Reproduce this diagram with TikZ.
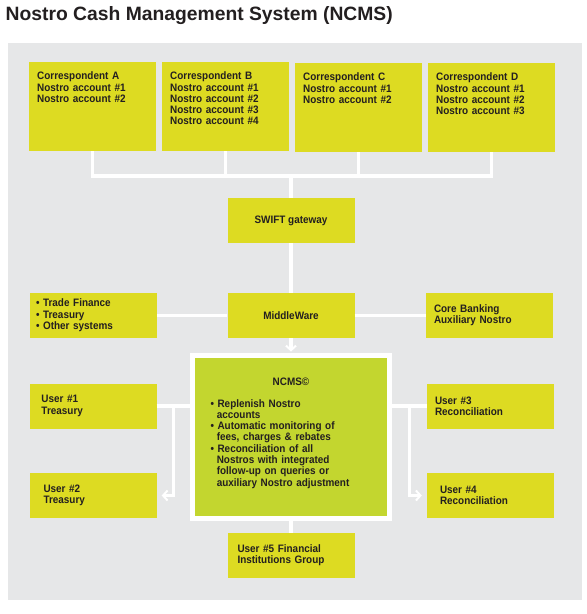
\documentclass[tikz,border=0pt]{standalone}
\usepackage{fontspec}
\newfontfamily\titlefont{Liberation Sans}
\newfontfamily\boxfont{Liberation Sans}[FakeStretch=0.92]
\usepackage{tikz}
\usepackage{xcolor}
\usetikzlibrary{positioning, arrows.meta, calc}

\definecolor{bggray}{HTML}{E6E7E8}
\definecolor{boxyellow}{HTML}{DDDB22}
\definecolor{ncmsgreen}{HTML}{C3D62F}
\definecolor{inkdark}{HTML}{231F20}

\begin{document}
\begin{tikzpicture}[x=1pt, y=-1pt,
    every node/.style={font=\boxfont\bfseries\fontsize{10.8}{11.3}\selectfont, text=inkdark},
    corrbox/.style={fill=boxyellow, anchor=north west, align=left, inner xsep=8pt, inner ysep=0pt, text width=111pt, text height=17.5pt, text depth=71.5pt},
    midbox/.style={fill=boxyellow, minimum width=127pt, minimum height=45pt, inner sep=0pt, align=center},
    listbox/.style={midbox, align=left},
    wire/.style={draw=white, line width=3.5pt},
    tip/.style={-{Straight Barb[length=4.5pt, width=10pt, line width'=2pt]}}]
        \useasboundingbox (0,0) rectangle (587,614);
        \fill[white] (0,0) rectangle (587,614);
        \fill[bggray] (8,42.5) rectangle (582,600);
        \node[font=\titlefont\bfseries\fontsize{19.3}{22}\selectfont, anchor=base west, inner sep=0pt] (title) at (5.5,20.7) {Nostro Cash Management System (NCMS)};
        % Correspondent banks
        \node[corrbox] (corrA) at (29,62) {Correspondent A\\Nostro account \#1\\Nostro account \#2};
        \node[corrbox] (corrB) at (162,62) {Correspondent B\\Nostro account \#1\\Nostro account \#2\\Nostro account \#3\\Nostro account \#4};
        \node[corrbox] (corrC) at (295,63) {Correspondent C\\Nostro account \#1\\Nostro account \#2};
        \node[corrbox] (corrD) at (428,63) {Correspondent D\\Nostro account \#1\\Nostro account \#2\\Nostro account \#3};
        % Gateway and middleware
        \node[midbox] (swift) at (291,220.5) {SWIFT gateway};
        \node[midbox] (mware) at (291,315.5) {MiddleWare};
        \node[listbox, inner xsep=6pt, text width=115pt] (others) at (93.5,315.5) {\textbullet\ Trade Finance\\\textbullet\ Treasury\\\textbullet\ Other systems};
        \node[listbox, inner xsep=8pt, text width=111pt] (core) at (489.5,315.5) {Core Banking\\Auxiliary Nostro};
        % NCMS
        \node[fill=ncmsgreen, draw=white, line width=5pt, minimum width=197pt, minimum height=163pt, inner xsep=18pt, inner ysep=0pt, text width=161pt, text height=29.5pt, text depth=133.5pt, align=left] (ncms) at (291,437) {\makebox[\linewidth]{NCMS\textcopyright}\\[10.7pt]
            \textbullet\ Replenish Nostro\\
            \hspace*{6.3pt}accounts\\
            \textbullet\ Automatic monitoring of\\
            \hspace*{6.3pt}fees, charges \& rebates\\
            \textbullet\ Reconciliation of all\\
            \hspace*{6.3pt}Nostros with integrated\\
            \hspace*{6.3pt}follow-up on queries or\\
            \hspace*{6.3pt}auxiliary Nostro adjustment};
        % Users
        \node[listbox, inner xsep=12pt, text width=103pt] (user1) at (93,406) {User \#1\\Treasury};
        \node[listbox, inner xsep=14pt, text width=99pt] (user2) at (93,495.5) {User \#2\\Treasury};
        \node[listbox, inner xsep=8pt, text width=111pt] (user3) at (490.5,406) {User \#3\\Reconciliation};
        \node[listbox, inner xsep=13pt, text width=101pt] (user4) at (490.5,495.5) {User \#4\\Reconciliation};
        \node[listbox, inner xsep=10pt, text width=107pt] (user5) at (291,555.5) {User \#5 Financial\\Institutions Group};
        % Wires
        \coordinate (bus) at (291,176);
        \draw[wire] (corrA.south) |- (bus) -| (corrD.south);
        \draw[wire] (corrB.south) -- (corrB.south |- bus);
        \draw[wire] (corrC.south) -- (corrC.south |- bus);
        \draw[wire] (bus) -- (swift);
        \draw[wire] (swift) -- (mware);
        \draw[wire] (others) -- (mware);
        \draw[wire] (mware) -- (core);
        \draw[wire, tip, shorten >=1.5pt] (mware) -- (ncms);
        \draw[wire] (user1.east) -- (user1.east -| ncms.west) coordinate[pos=.5] (feedL);
        \draw[wire, tip, shorten >=5pt] (feedL) |- (user2.east);
        \draw[wire] (ncms.east |- user3.west) -- (user3.west) coordinate[pos=.5] (feedR);
        \draw[wire, tip, shorten >=5pt] (feedR) |- (user4.west);
        \draw[wire] (ncms) -- (user5);
    \end{tikzpicture}
\end{document}
